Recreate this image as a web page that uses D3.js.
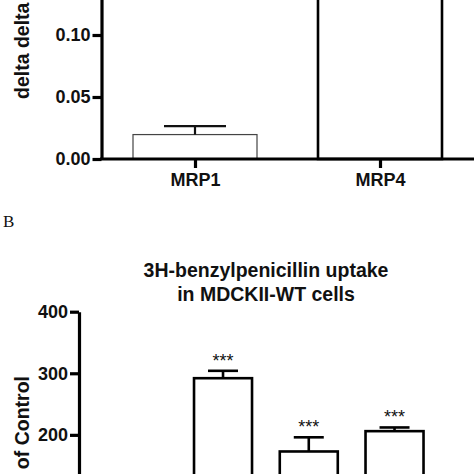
<!DOCTYPE html>
<html><head><meta charset="utf-8">
<script src="https://cdn.jsdelivr.net/npm/d3@7"></script>
<style>
body{margin:0;background:#fff}
svg{display:block;font-family:"Liberation Sans",Arial,sans-serif}
</style></head><body>
<script>
// top panel (only partly in view)
const genes = ["MRP1", "MRP4"];
const geneValues = [0.0197, 0.30];
const geneErrors = [0.0068, 0.02];
const geneTicks = [0, 0.05, 0.10];

// panel B
const groups = ["Control", "Group 1", "Group 2", "Group 3"];
const uptake = [100, 292, 173, 206];
const uptakeErr = [8, 12, 23, 6];
const stars = ["", "***", "***", "***"];
const uptakeTicks = [0, 100, 200, 300, 400];

const W = 474, H = 474;
const svg = d3.select("body").append("svg").attr("width", W).attr("height", H);

// ---------- top panel ----------
const xA = d3.scalePoint().domain(genes).range([102.5, 472.5]).padding(0.5);
const yA = d3.scaleLinear().domain([0, 0.15]).range([159, -27]);
const barWA = 124;

const gA = svg.append("g");
genes.forEach((g, i) => {
  const cx = xA(g);
  gA.append("rect")
    .attr("x", cx - barWA / 2).attr("y", yA(geneValues[i]))
    .attr("width", barWA).attr("height", yA(0) - yA(geneValues[i]))
    .attr("fill", "#fff")
    .attr("stroke", i === 0 ? "#444" : "#000")
    .attr("stroke-width", i === 0 ? 1.2 : 2.6);
  const top = yA(geneValues[i] + geneErrors[i]);
  gA.append("line").attr("x1", cx).attr("x2", cx)
    .attr("y1", yA(geneValues[i])).attr("y2", top)
    .attr("stroke", "#111").attr("stroke-width", 2.2);
  gA.append("line").attr("x1", cx - 31).attr("x2", cx + 31)
    .attr("y1", top).attr("y2", top)
    .attr("stroke", "#111").attr("stroke-width", 2.2);
});

const axA = gA.append("g").attr("transform", "translate(101.5,0)")
  .call(d3.axisLeft(yA).tickValues(geneTicks).tickFormat(d3.format(".2f")).tickSize(9).tickSizeOuter(0).tickPadding(2));
const axAx = gA.append("g").attr("transform", "translate(0,159)")
  .call(d3.axisBottom(xA).tickSize(9).tickSizeOuter(0).tickPadding(5));
axAx.select(".domain").remove();
gA.append("line").attr("x1", 100).attr("x2", W + 2).attr("y1", 159).attr("y2", 159)
  .attr("stroke", "#000").attr("stroke-width", 3.2);

gA.append("text")
  .attr("transform", "translate(29,99) rotate(-90)")
  .attr("font-size", 19.5).attr("font-weight", "bold").attr("fill", "#111")
  .text("delta delta Ct");

// ---------- panel B ----------
svg.append("text").attr("x", 3).attr("y", 227)
  .attr("font-family", "Liberation Serif, serif").attr("font-size", 17).attr("fill", "#111")
  .text("B");

const xB = d3.scalePoint().domain(groups).range([94.4, 437.4]).padding(0.5);
const yB = d3.scaleLinear().domain([0, 400]).range([558, 311.7]);
const barWB = 58;

const gB = svg.append("g");
gB.append("text").attr("x", 266).attr("y", 277).attr("text-anchor", "middle")
  .attr("font-size", 19.5).attr("font-weight", "bold").attr("fill", "#111")
  .text("3H-benzylpenicillin uptake");
gB.append("text").attr("x", 266).attr("y", 301).attr("text-anchor", "middle")
  .attr("font-size", 19.5).attr("font-weight", "bold").attr("fill", "#111")
  .text("in MDCKII-WT cells");

groups.forEach((g, i) => {
  const cx = xB(g);
  gB.append("rect")
    .attr("x", cx - barWB / 2).attr("y", yB(uptake[i]))
    .attr("width", barWB).attr("height", yB(0) - yB(uptake[i]))
    .attr("fill", "#fff").attr("stroke", "#000").attr("stroke-width", 2.6);
  const top = yB(uptake[i] + uptakeErr[i]);
  gB.append("line").attr("x1", cx).attr("x2", cx)
    .attr("y1", yB(uptake[i])).attr("y2", top)
    .attr("stroke", "#000").attr("stroke-width", 2.6);
  gB.append("line").attr("x1", cx - 15).attr("x2", cx + 15)
    .attr("y1", top).attr("y2", top)
    .attr("stroke", "#000").attr("stroke-width", 2.6);
  gB.append("text").attr("x", cx).attr("y", top - 4).attr("text-anchor", "middle")
    .attr("font-size", 18).attr("fill", "#111").text(stars[i]);
});

gB.append("g").attr("transform", "translate(79,0)")
  .call(d3.axisLeft(yB).tickValues(uptakeTicks).tickSize(9).tickSizeOuter(0).tickPadding(2));

gB.append("text")
  .attr("transform", "translate(29,376) rotate(-90)")
  .attr("text-anchor", "end")
  .attr("font-size", 19.5).attr("font-weight", "bold").attr("fill", "#111")
  .text("% of Control");

// axis styling
svg.selectAll(".domain").attr("stroke", "#000").attr("stroke-width", 3.2);
svg.selectAll(".tick line").attr("stroke", "#000").attr("stroke-width", 3.2);
svg.selectAll(".tick text").attr("font-size", 18).attr("font-weight", "bold")
  .attr("fill", "#111").attr("font-family", "Liberation Sans, Arial, sans-serif");
</script>
</body></html>
